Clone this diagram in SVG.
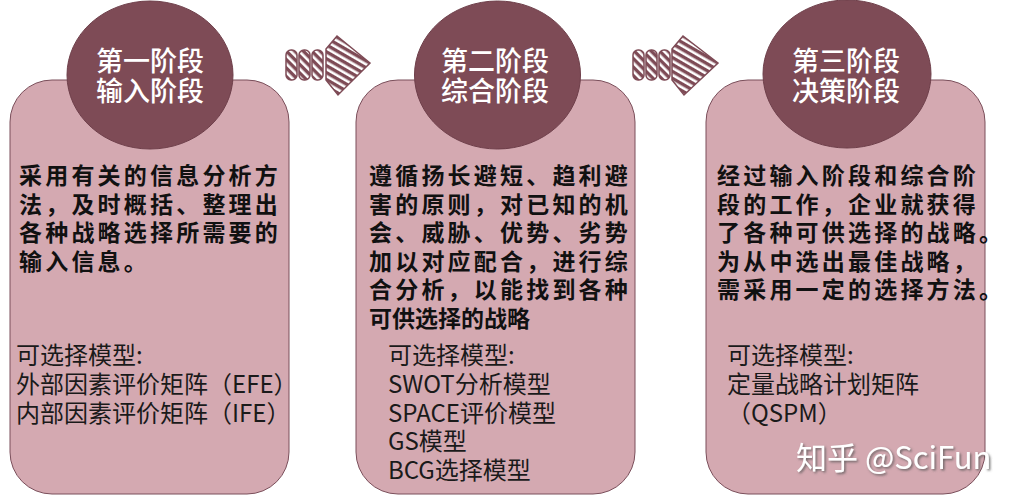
<svg xmlns="http://www.w3.org/2000/svg" width="1016" height="502" viewBox="0 0 1016 502">
  <style>
    .panel { fill: #D4A9B1; stroke: #7A4E5A; stroke-width: 1; }
    .disc { fill: #7E4B56; stroke: #6E3F4A; stroke-width: 1; }
    .title { font-family: "Noto Sans CJK SC", sans-serif; font-size: 27px; font-weight: 500; fill: #FFFFFF; text-anchor: middle; }
    .body { font-family: "Noto Sans CJK SC", sans-serif; font-size: 23px; font-weight: bold; fill: #111111; letter-spacing: 3.2px; }
    .tight { letter-spacing: 0px; }
    .model { font-family: "Noto Sans CJK SC", sans-serif; font-size: 24px; fill: #1A1A1A; }
    .wm { font-family: "Noto Sans CJK SC", sans-serif; font-size: 31px; fill: #FFFFFF; filter: url(#shadow); }
    .pill { fill: url(#stripes45); stroke: #7E4B56; stroke-width: 1.5; }
    .head { fill: url(#stripes30); stroke: #7E4B56; stroke-width: 1.5; }
  </style>
  <defs>
    <pattern id="stripes45" patternUnits="userSpaceOnUse" width="6" height="6" patternTransform="rotate(45)">
      <rect x="0" y="0" width="6" height="6" fill="#FFFFFF"/>
      <rect x="0" y="0" width="6" height="3.4" fill="#7E4B56"/>
    </pattern>
    <pattern id="stripes30" patternUnits="userSpaceOnUse" width="6" height="6" patternTransform="rotate(30)">
      <rect x="0" y="0" width="6" height="6" fill="#FFFFFF"/>
      <rect x="0" y="0" width="6" height="3.4" fill="#7E4B56"/>
    </pattern>
    <filter id="shadow" x="-10%" y="-30%" width="120%" height="160%">
      <feDropShadow dx="1.5" dy="1.5" stdDeviation="0.8" flood-color="#555555" flood-opacity="0.8"/>
    </filter>
  </defs>

  <g id="connectors">
    <g id="arrow1">
      <rect class="pill" x="286" y="50" width="11" height="30" rx="5"/>
      <rect class="pill" x="299" y="50" width="11" height="30" rx="5"/>
      <rect class="pill" x="312" y="50" width="11" height="30" rx="5"/>
      <polygon class="head" points="326,49 337,36 370,63 338,95 326,80"/>
    </g>
    <g id="arrow2">
      <rect class="pill" x="633" y="50" width="11" height="30" rx="5"/>
      <rect class="pill" x="646" y="50" width="11" height="30" rx="5"/>
      <rect class="pill" x="659" y="50" width="11" height="30" rx="5"/>
      <polygon class="head" points="672,49 683,36 718,63 684,95 672,80"/>
    </g>
  </g>

  <g id="stage1">
    <rect class="panel" x="10" y="80" width="279" height="414" rx="42"/>
    <ellipse class="disc" cx="150" cy="75" rx="83" ry="74"/>
    <text class="title" x="150" y="71">第一阶段<tspan x="150" dy="30">输入阶段</tspan></text>
    <text class="body" x="19" y="184">采用有关的信息分析方<tspan x="19" dy="28.5">法，及时概括、整理出</tspan><tspan x="19" dy="28.5">各种战略选择所需要的</tspan><tspan x="19" dy="28.5">输入信息。</tspan></text>
    <text class="model" x="16" y="364">可选择模型:<tspan x="16" dy="28.8">外部因素评价矩阵（EFE）</tspan><tspan x="16" dy="28.8">内部因素评价矩阵（IFE）</tspan></text>
  </g>

  <g id="stage2">
    <rect class="panel" x="356" y="80" width="279" height="414" rx="42"/>
    <ellipse class="disc" cx="497.5" cy="75" rx="83" ry="74"/>
    <text class="title" x="495" y="71">第二阶段<tspan x="495" dy="30">综合阶段</tspan></text>
    <text class="body" x="369" y="184">遵循扬长避短、趋利避<tspan x="369" dy="28.5">害的原则，对已知的机</tspan><tspan x="369" dy="28.5">会、威胁、优势、劣势</tspan><tspan x="369" dy="28.5">加以对应配合，进行综</tspan><tspan x="369" dy="28.5">合分析，以能找到各种</tspan><tspan class="tight" x="369" dy="28.5">可供选择的战略</tspan></text>
    <text class="model" x="388" y="364">可选择模型:<tspan x="388" dy="28.8">SWOT分析模型</tspan><tspan x="388" dy="28.8">SPACE评价模型</tspan><tspan x="388" dy="28.8">GS模型</tspan><tspan x="388" dy="28.8">BCG选择模型</tspan></text>
  </g>

  <g id="stage3">
    <rect class="panel" x="706" y="80" width="279" height="414" rx="42"/>
    <ellipse class="disc" cx="847" cy="74" rx="84" ry="74"/>
    <text class="title" x="846" y="71">第三阶段<tspan x="846" dy="30">决策阶段</tspan></text>
    <text class="body" x="717" y="184">经过输入阶段和综合阶<tspan x="717" dy="28.5">段的工作，企业就获得</tspan><tspan x="717" dy="28.5">了各种可供选择的战略。</tspan><tspan x="717" dy="28.5">为从中选出最佳战略，</tspan><tspan x="717" dy="28.5">需采用一定的选择方法。</tspan></text>
    <text class="model" x="727" y="364">可选择模型:<tspan x="727" dy="28.8">定量战略计划矩阵</tspan><tspan x="727" dy="28.8">（QSPM）</tspan></text>
  </g>

  <g id="watermark">
    <text class="wm" x="796" y="469">知乎 @SciFun</text>
  </g>
</svg>
